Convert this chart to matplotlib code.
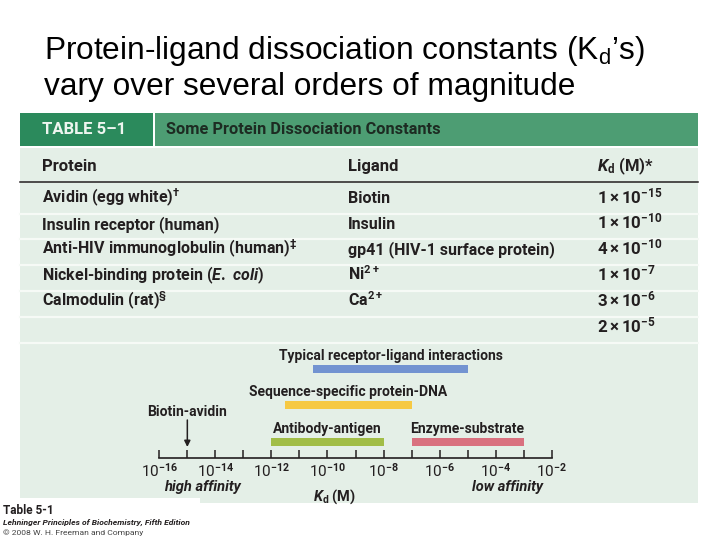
import numpy as np
import matplotlib as mpl
mpl.use("agg")
import matplotlib.pyplot as plt
from matplotlib.patches import Rectangle
from matplotlib import font_manager

names = {f.name for f in font_manager.fontManager.ttflist}
cond = "Liberation Sans Narrow" if "Liberation Sans Narrow" in names else "Roboto"
plain = "Liberation Sans"

mpl.rcParams['mathtext.fontset'] = 'custom'
mpl.rcParams['mathtext.rm'] = cond + ":bold"
mpl.rcParams['mathtext.bf'] = cond + ":bold"
mpl.rcParams['mathtext.it'] = cond + ":italic:bold"
mpl.rcParams['mathtext.sf'] = plain
mpl.rcParams['mathtext.default'] = 'bf'
mpl.rcParams['font.family'] = [cond, "DejaVu Sans"]

# table contents
proteins = ["Avidin (egg white)$^{†}$",
            "Insulin receptor (human)",
            "Anti-HIV immunoglobulin (human)$^{‡}$",
            r"Nickel-binding protein ($\mathit{E.\ coli}$)",
            "Calmodulin (rat)$^{§}$",
            ""]
ligands = ["Biotin", "Insulin", "gp41 (HIV-1 surface protein)",
           "Ni$^{2+}$", "Ca$^{2+}$", ""]
kd_mant = [1, 1, 4, 1, 3, 2]
kd_exp = [-15, -10, -10, -7, -6, -5]

# ranges of Kd (log10 M) for the scale below the table
range_labels = ["Typical receptor-ligand interactions",
                "Sequence-specific protein-DNA",
                "Antibody-antigen",
                "Enzyme-substrate"]
range_lo = [-10.5, -11.5, -12, -7]
range_hi = [-5, -7, -8, -3]
range_colors = ["#7293d1", "#f6c944", "#a1bd47", "#d9717f"]
range_levels = [89, 53, 16.5, 16.5]   # px above the axis line
biotin_avidin = -15
axis_exponents = list(range(-16, -1))

ink = "#231f20"
body = "#e4efe7"

fig = plt.figure(figsize=(7.2, 5.4), dpi=100)
ax = fig.add_axes([0, 0, 1, 1])
ax.set_xlim(0, 720)
ax.set_ylim(540, 0)
ax.axis("off")

# title
ax.text(44, 59, "Protein-ligand dissociation constants (K$_\\mathsf{d}$’s)",
        family=plain, fontsize=22.8, color="black", va="baseline")
ax.text(44, 95, "vary over several orders of magnitude",
        family=plain, fontsize=22.8, color="black", va="baseline")

# table frame
ax.add_patch(Rectangle((20, 113), 133, 33, color="#2b8a5c", lw=0))
ax.add_patch(Rectangle((155, 113), 543, 33, color="#4d9d73", lw=0))
ax.add_patch(Rectangle((20, 148), 678, 355, color=body, lw=0))
ax.text(42, 130, "TABLE 5–1", fontsize=12, weight="bold", color="#eef5ef", va="center")
ax.text(166, 130, "Some Protein Dissociation Constants", fontsize=11.8,
        weight="bold", color="#1d2b22", va="center")

cols = [42, 348, 597]
ax.text(cols[0], 171, "Protein", fontsize=12, weight="bold", color=ink, va="baseline")
ax.text(cols[1], 171, "Ligand", fontsize=12, weight="bold", color=ink, va="baseline")
ax.text(cols[2], 171, r"$\mathit{K}_\mathbf{d}$ (M)*", fontsize=12, weight="bold",
        color=ink, va="baseline")
ax.plot([20, 698], [182, 182], color=ink, lw=1.1)

row_y = 203 + 25.8 * np.arange(len(proteins))
for y, p, l, m, e in zip(row_y, proteins, ligands, kd_mant, kd_exp):
    ax.text(cols[0], y, p, fontsize=11.5, weight="bold", color=ink, va="baseline")
    ax.text(cols[1], y, l, fontsize=11.5, weight="bold", color=ink, va="baseline")
    ax.text(cols[2], y, r"$%d \times 10^{%d}$" % (m, e), fontsize=12.2,
            color=ink, va="baseline")
for y in row_y + 10.5:
    ax.plot([20, 698], [y, y], color="#f6faf6", lw=1.6)

# Kd scale
x0, x1, yax, top = 159.3, 551.7, 458, 345
ax2 = fig.add_axes([x0 / 720, 1 - yax / 540, (x1 - x0) / 720, (yax - top) / 540])
ax2.set_facecolor("none")
ax2.set_xscale("log")
ax2.set_xlim(10.0 ** -16, 10.0 ** -2)
ax2.set_ylim(0, yax - top)
for s in ["top", "left", "right"]:
    ax2.spines[s].set_visible(False)
ax2.spines["bottom"].set_color(ink)
ax2.spines["bottom"].set_linewidth(1.2)
ax2.set_yticks([])
ax2.set_xticks([10.0 ** e for e in axis_exponents])
ax2.set_xticklabels(["10$^{%d}$" % e if e % 2 == 0 else "" for e in axis_exponents])
ax2.xaxis.set_minor_locator(mpl.ticker.NullLocator())
ax2.tick_params(axis="x", direction="in", length=5.5, width=1.1, color=ink,
                labelsize=11, labelcolor=ink, pad=3)

for lab, lo, hi, c, lev in zip(range_labels, range_lo, range_hi, range_colors, range_levels):
    a, b = 10.0 ** lo, 10.0 ** hi
    ax2.barh(lev, b - a, left=a, height=8, color=c, lw=0)
    ax2.text(10 ** ((lo + hi) / 2), lev + 13, lab, ha="center", va="center",
             fontsize=10, weight="bold", color=ink)

ax2.annotate("", xy=(10.0 ** biotin_avidin, 11), xytext=(10.0 ** biotin_avidin, 38),
             arrowprops=dict(arrowstyle="-|>", color=ink, lw=1.1, mutation_scale=9,
                             shrinkA=0, shrinkB=0))
ax2.text(10.0 ** biotin_avidin, 46, "Biotin-avidin", ha="center", va="center",
         fontsize=10, weight="bold", color=ink)

ax.text(202, 487, "high affinity", ha="center", va="center", fontsize=10.5,
        weight="bold", style="italic", color=ink)
ax.text(508, 487, "low affinity", ha="center", va="center", fontsize=10.5,
        weight="bold", style="italic", color=ink)
ax.text(335, 497, r"$\mathit{K}_\mathbf{d}$ (M)", ha="center", va="center",
        fontsize=10.5, weight="bold", color=ink)

# caption
ax.add_patch(Rectangle((0, 498), 200, 42, color="white", lw=0))
ax.text(3, 510, "Table 5-1", fontsize=8.5, weight="bold", color=ink, va="center")
ax.text(3, 522, "Lehninger Principles of Biochemistry, Fifth Edition", fontsize=6.1,
        weight="bold", style="italic", color=ink, va="center")
ax.text(3, 533, "© 2008 W. H. Freeman and Company", fontsize=6.1, color="#444444",
        va="center")

fig.savefig("out.png", dpi=100)
